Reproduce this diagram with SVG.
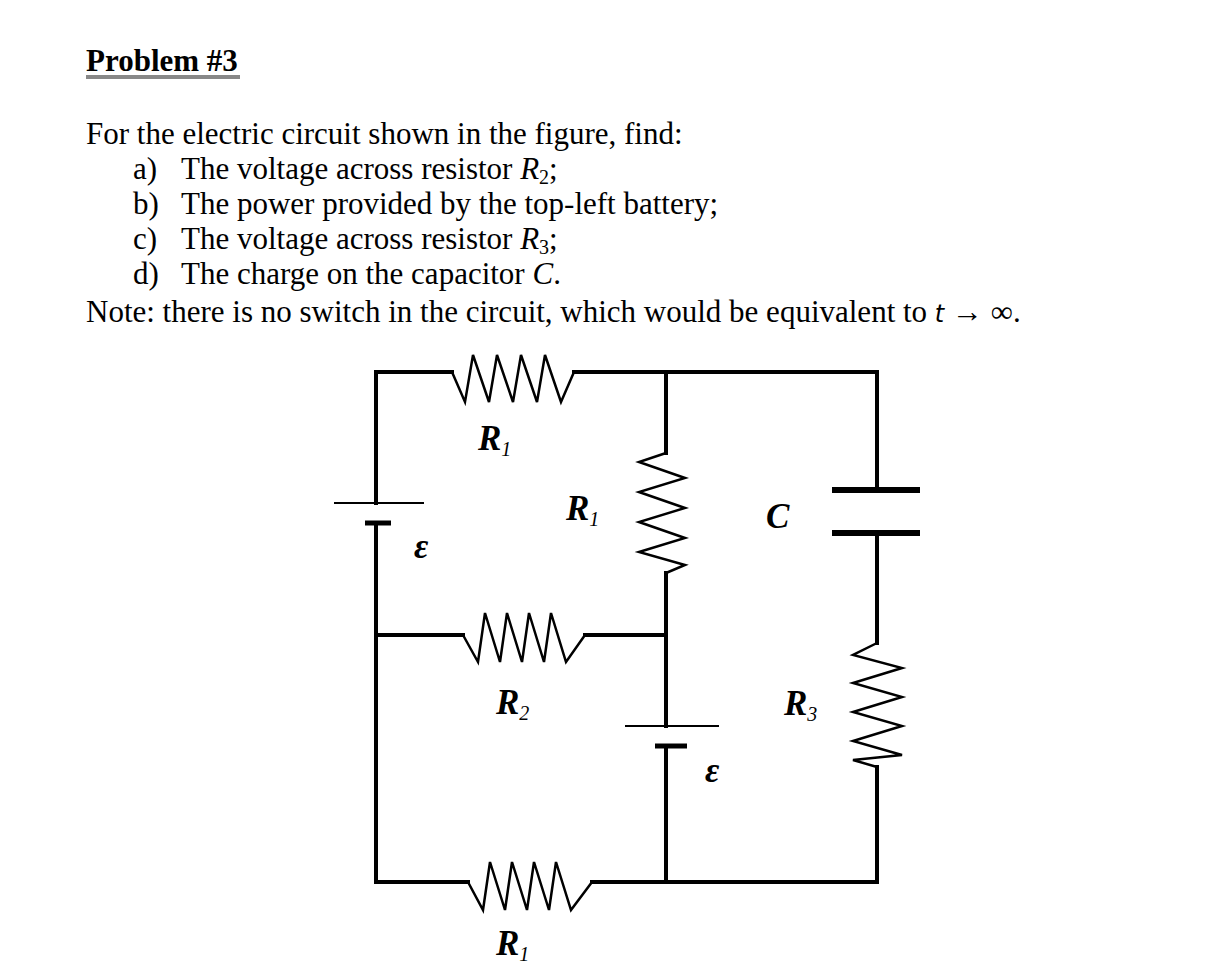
<svg xmlns="http://www.w3.org/2000/svg" width="1212" height="980" viewBox="0 0 1212 980">
<style>
.t{font-family:"Liberation Serif",serif;font-size:31px;fill:#000}
.w{stroke:#000;stroke-width:4;fill:none;stroke-linecap:square}
.z{stroke:#000;stroke-width:2.5;fill:none;stroke-linejoin:miter}
.p{stroke:#000;fill:none}
.l{font-family:"Liberation Serif",serif;font-style:italic;font-weight:bold;font-size:35px;fill:#000}
.s{font-size:20px;font-weight:normal}
</style>
<rect width="1212" height="980" fill="#fff"/>
<g id="text">
<text class="t" x="86" y="71" font-weight="bold" font-size="29">Problem #3</text>
<rect x="86" y="75" width="154" height="4" fill="#888"/>
<text class="t" x="86" y="144">For the electric circuit shown in the figure, find:</text>
<text class="t" x="133" y="179">a)</text><text class="t" x="181" y="179">The voltage across resistor <tspan font-style="italic">R</tspan><tspan font-size="20" dy="5">2</tspan><tspan dy="-5">;</tspan></text>
<text class="t" x="133" y="214">b)</text><text class="t" x="181" y="214">The power provided by the top-left battery;</text>
<text class="t" x="133" y="249">c)</text><text class="t" x="181" y="249">The voltage across resistor <tspan font-style="italic">R</tspan><tspan font-size="20" dy="5">3</tspan><tspan dy="-5">;</tspan></text>
<text class="t" x="133" y="284">d)</text><text class="t" x="181" y="284">The charge on the capacitor <tspan font-style="italic">C</tspan>.</text>
<text class="t" x="86" y="322">Note: there is no switch in the circuit, which would be equivalent to <tspan font-family="DejaVu Sans" font-size="24" font-style="italic">t</tspan> → ∞.</text>
</g>
<g id="connectors">
<polyline class="w" points="452,372 376,372 376,503"/>
<polyline class="w" points="376,523 376,882 468,882"/>
<polyline class="w" points="574,372 877,372 877,490"/>
<line class="w" x1="666" y1="372" x2="666" y2="453"/>
<line class="w" x1="666" y1="573" x2="666" y2="726"/>
<line class="w" x1="666" y1="746" x2="666" y2="882"/>
<polyline class="w" points="376,635 463,635"/>
<polyline class="w" points="585,635 666,635"/>
<polyline class="w" points="592,882 877,882 877,767"/>
<polyline class="w" points="877,533 877,643"/>
</g>
<g id="R1top"><polyline class="z" points="452,372 465,402 473,355 489,402 497,355 513,402 521,355 537,402 545,355 561,402 574,372"/>
<text class="l" x="478" y="450">R<tspan class="s" dy="6">1</tspan></text></g>
<g id="R1mid"><polyline class="z" points="666,453 639,462 685,478 639,492 685,508 639,522 685,538 639,552 685,565 666,573"/>
<text class="l" x="566" y="520">R<tspan class="s" dy="6">1</tspan></text></g>
<g id="R2"><polyline class="z" points="463,635 478,662 485,613 500,662 507,613 522,662 529,613 544,662 551,613 566,662 585,635"/>
<text class="l" x="496" y="714">R<tspan class="s" dy="6">2</tspan></text></g>
<g id="R1bot"><polyline class="z" points="468,882 483,910 490,862 505,910 512,862 527,910 534,862 549,910 556,862 571,910 592,882"/>
<text class="l" x="496" y="955">R<tspan class="s" dy="6">1</tspan></text></g>
<g id="R3"><polyline class="z" points="877,643 853,655 902,668 853,683 902,697 853,712 902,726 853,741 902,755 853,760 877,767"/>
<text class="l" x="784" y="715">R<tspan class="s" dy="6">3</tspan></text></g>
<g id="C"><line class="p" stroke-width="6" x1="832" y1="490" x2="920" y2="490"/><line class="p" stroke-width="6" x1="832" y1="533" x2="920" y2="533"/>
<text class="l" x="766" y="528" font-weight="normal">C</text></g>
<g id="E1"><line class="p" stroke-width="2" x1="334" y1="503" x2="424" y2="503"/><line class="p" stroke-width="5" x1="365" y1="523" x2="391" y2="523"/>
<text class="l" x="414" y="558" font-weight="normal">ε</text></g>
<g id="E2"><line class="p" stroke-width="2" x1="625" y1="726" x2="719" y2="726"/><line class="p" stroke-width="5" x1="655" y1="746" x2="687" y2="746"/>
<text class="l" x="705" y="782" font-weight="normal">ε</text></g>
</svg>
